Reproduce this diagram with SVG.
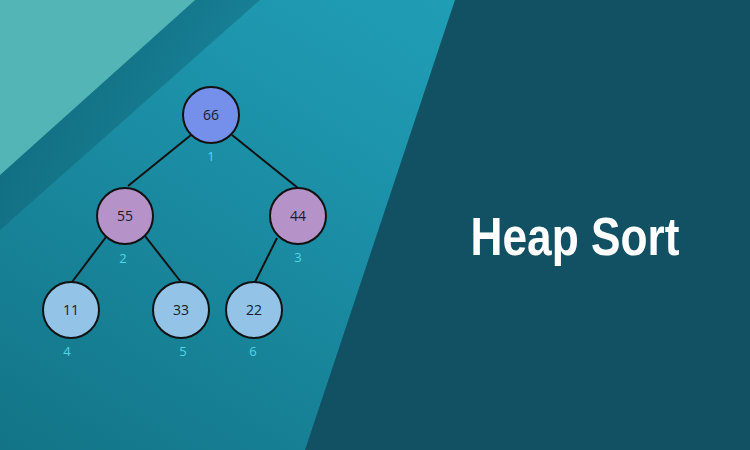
<svg xmlns="http://www.w3.org/2000/svg" width="750" height="450" viewBox="0 0 750 450">
<defs>
<linearGradient id="bg" x1="0" y1="1" x2="1" y2="0">
<stop offset="0" stop-color="#137487"/><stop offset="0.6" stop-color="#1d95ad"/><stop offset="1" stop-color="#22a6bd"/>
</linearGradient>
<linearGradient id="shade" x1="0" y1="0" x2="1" y2="1">
<stop offset="0" stop-color="#0d5a6b" stop-opacity="0.8"/><stop offset="1" stop-color="#0d5a6b" stop-opacity="0"/>
</linearGradient>
<style>
.e{stroke:#111;stroke-width:2}
.n{stroke:#111;stroke-width:2}
.t{font-family:"Open Sans","DejaVu Sans",sans-serif;font-size:14px;fill:#1a1a2a;text-anchor:middle}
.i{font-family:"Open Sans","DejaVu Sans",sans-serif;font-size:13px;fill:#4fd8e6;text-anchor:middle}
</style>
</defs>
<rect width="750" height="450" fill="url(#bg)"/>
<polygon points="0,175 195,0 260,0 0,230" fill="url(#shade)"/>
<polygon points="0,0 195,0 0,175" fill="#54b5b6"/>
<polygon points="455,0 750,0 750,450 305,450" fill="#125064"/>
<text x="575" y="255" font-family="'Liberation Sans',Arial,sans-serif" font-weight="bold" font-size="54" fill="#fff" text-anchor="middle" transform="translate(575 0) scale(0.82 1) translate(-575 0)">Heap Sort</text>
<g id="edges">
<line class="e" x1="191" y1="135" x2="128" y2="186"/>
<line class="e" x1="232" y1="135" x2="298" y2="188"/>
<line class="e" x1="106" y1="237" x2="72" y2="282"/>
<line class="e" x1="145" y1="236" x2="181" y2="282"/>
<line class="e" x1="277" y1="238" x2="255" y2="282"/>
</g>
<g id="n1"><circle class="n" cx="211" cy="115" r="28" fill="#7490ea"/><text class="t" x="211" y="120">66</text><text class="i" x="211" y="161">1</text></g>
<g id="n2"><circle class="n" cx="125" cy="216" r="28" fill="#b592c7"/><text class="t" x="125" y="221">55</text><text class="i" x="123" y="263">2</text></g>
<g id="n3"><circle class="n" cx="298" cy="216" r="28" fill="#b592c7"/><text class="t" x="298" y="221">44</text><text class="i" x="298" y="262">3</text></g>
<g id="n4"><circle class="n" cx="71" cy="310" r="28" fill="#93c3e6"/><text class="t" x="71" y="315">11</text><text class="i" x="67" y="356">4</text></g>
<g id="n5"><circle class="n" cx="181" cy="310" r="28" fill="#93c3e6"/><text class="t" x="181" y="315">33</text><text class="i" x="183" y="356">5</text></g>
<g id="n6"><circle class="n" cx="254" cy="310" r="28" fill="#93c3e6"/><text class="t" x="254" y="315">22</text><text class="i" x="253" y="356">6</text></g>
</svg>
